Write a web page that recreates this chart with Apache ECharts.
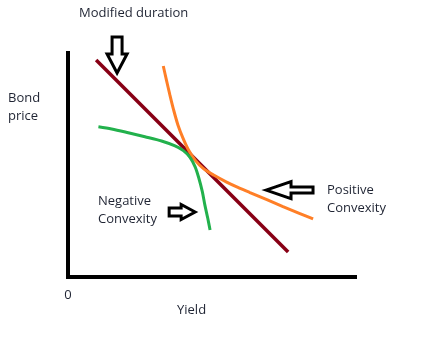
<!DOCTYPE html>
<html>
<head>
<meta charset="utf-8">
<script src="https://cdn.jsdelivr.net/npm/echarts@6/dist/echarts.min.js"></script>
<style>
html,body{margin:0;padding:0;background:#fff;}
#chart{width:444px;height:355px;}
</style>
</head>
<body>
<div id="chart"></div>
<script>
// ---- data (yield on x, bond price on y, arbitrary units 0..10) ----
const yieldRange = [0, 10];
const priceRange = [0, 10];
const tickLabels = ['0'];
const durationLine = [[0.98, 9.69], [7.67, 1.12]];
const positiveConvexity = [
  [3.32, 9.42], [3.43, 8.79], [3.55, 8.13], [3.68, 7.46], [3.83, 6.79],
  [4.01, 6.19], [4.20, 5.67], [4.43, 5.22], [4.71, 4.85], [5.09, 4.54],
  [5.51, 4.25], [5.92, 4.00], [6.34, 3.77], [6.93, 3.45], [7.49, 3.14],
  [8.08, 2.83], [8.54, 2.59]
];
const negativeConvexity = [
  [1.06, 6.71], [1.52, 6.61], [2.10, 6.44], [2.68, 6.26], [3.26, 6.07],
  [3.73, 5.85], [4.02, 5.64], [4.25, 5.34], [4.43, 4.92], [4.56, 4.41],
  [4.68, 3.81], [4.77, 3.21], [4.87, 2.62], [4.95, 2.10]
];
const arrowTips = [[1.71, 9.11], [4.43, 2.90], [6.90, 3.88]];
const arrowDirs = ['down', 'right', 'left'];
const axisTitles = ['Yield', 'Bond\nprice'];
const annotations = ['Modified duration', 'Negative\nConvexity', 'Positive\nConvexity'];

// ---- styles ----
const FONT = '"Open Sans", "Noto Sans", sans-serif';
const TXT = '#1f2433';
const arrowShapes = {
  down:  {headLen: 19, headHalf: 10, shaftLen: 17, shaftHalf: 5},
  right: {headLen: 14, headHalf: 7.5, shaftLen: 12, shaftHalf: 4},
  left:  {headLen: 25, headHalf: 8.5, shaftLen: 22, shaftHalf: 3}
};
const dirVec = {down: [0, 1, 1, 0], right: [1, 0, 0, 1], left: [-1, 0, 0, 1]};

function text(x, y, t, lh) {
  return {type: 'text', x: x, y: y, style: {text: t, fill: TXT, font: '13px ' + FONT,
    lineHeight: lh || 18, verticalAlign: 'middle', align: 'left'}};
}

const chart = echarts.init(document.getElementById('chart'), null, {renderer: 'canvas'});
chart.setOption({
  backgroundColor: '#fff',
  animation: false,
  grid: {left: 68, top: 53, width: 287, height: 224, containLabel: false, outerBoundsMode: 'none'},
  xAxis: {
    type: 'value', min: yieldRange[0], max: yieldRange[1], interval: 10,
    axisLine: {show: true, onZero: false, lineStyle: {color: '#000', width: 4, cap: 'square'}},
    axisTick: {show: false}, splitLine: {show: false},
    axisLabel: {show: true, margin: 12, color: TXT, fontFamily: FONT, fontSize: 13,
      formatter: v => (v === 0 ? tickLabels[0] : '')}
  },
  yAxis: {
    type: 'value', min: priceRange[0], max: priceRange[1],
    axisLine: {show: true, onZero: false, lineStyle: {color: '#000', width: 4, cap: 'square'}},
    axisTick: {show: false}, splitLine: {show: false}, axisLabel: {show: false}
  },
  graphic: [
    text(79, 13, annotations[0]),
    text(177, 310, axisTitles[0]),
    text(8, 107, axisTitles[1]),
    text(98, 210, annotations[1]),
    text(327, 199, annotations[2])
  ],
  series: [
    {type: 'line', data: durationLine, showSymbol: false, silent: true,
      lineStyle: {color: '#880015', width: 3.5}, z: 2},
    {type: 'line', data: positiveConvexity, smooth: 0.3, showSymbol: false, silent: true,
      lineStyle: {color: '#ff7f27', width: 3}, z: 3},
    {type: 'line', data: negativeConvexity, smooth: 0.3, showSymbol: false, silent: true,
      lineStyle: {color: '#22b14c', width: 3}, z: 3},
    {type: 'custom', data: arrowTips, clip: false, silent: true, z: 5,
      renderItem: function (params, api) {
        const tip = api.coord([api.value(0), api.value(1)]);
        const dir = arrowDirs[params.dataIndex];
        const s = arrowShapes[dir];
        const v = dirVec[dir];
        const local = [
          [0, 0], [-s.headLen, -s.headHalf], [-s.headLen, -s.shaftHalf],
          [-s.headLen - s.shaftLen, -s.shaftHalf], [-s.headLen - s.shaftLen, s.shaftHalf],
          [-s.headLen, s.shaftHalf], [-s.headLen, s.headHalf]
        ];
        const pts = local.map(p => [tip[0] + v[0] * p[0] + v[2] * p[1], tip[1] + v[1] * p[0] + v[3] * p[1]]);
        return {type: 'polygon', shape: {points: pts},
          style: {fill: '#fff', stroke: '#000', lineWidth: 3, lineJoin: 'miter'}};
      }}
  ]
});
</script>
</body>
</html>
